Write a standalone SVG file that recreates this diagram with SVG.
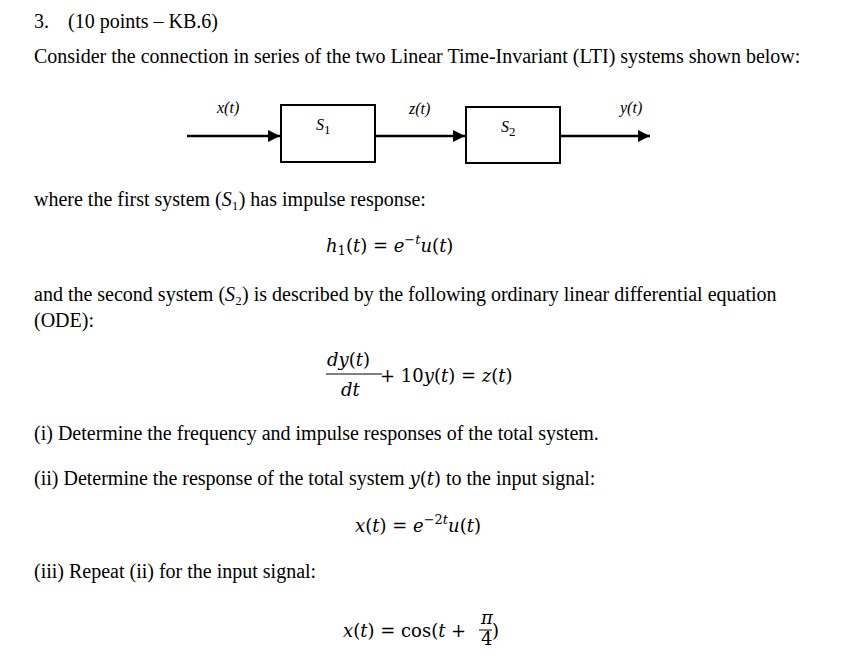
<svg xmlns="http://www.w3.org/2000/svg" width="859" height="671" viewBox="0 0 859 671">
<defs>
<style>
.t{font-family:"Liberation Serif",serif;font-size:20px;fill:#000}
.m{font-family:"DejaVu Serif",serif;font-size:18px;fill:#000}
.mi{font-style:italic}
.l{font-family:"Liberation Serif",serif;font-style:italic;font-size:16px}
.box{fill:#fff;stroke:#000;stroke-width:2}
.c{stroke:#000;stroke-width:2.5;fill:none}
</style>
<marker id="ah" viewBox="0 0 10 10" refX="10" refY="5" markerWidth="5" markerHeight="5" orient="auto"><path d="M0,0L10,5L0,10z"/></marker>
</defs>
<rect width="859" height="671" fill="#fff"/>
<text class="t" x="34" y="28">3.</text>
<text class="t" x="68" y="28">(10 points – KB.6)</text>
<text class="t" x="34" y="63">Consider the connection in series of the two Linear Time-Invariant (LTI) systems shown below:</text>
<g id="connectors">
<line class="c" x1="187" y1="136" x2="280" y2="136" marker-end="url(#ah)"/>
<line class="c" x1="375" y1="136" x2="465" y2="136" marker-end="url(#ah)"/>
<line class="c" x1="560" y1="136" x2="650" y2="136" marker-end="url(#ah)"/>
</g>
<g id="S1"><rect class="box" x="281" y="105" width="94" height="57"/><text class="l" x="316" y="130" font-size="19">S<tspan font-style="normal" font-size="13" dy="4">1</tspan></text></g>
<g id="S2"><rect class="box" x="466" y="107" width="94" height="56"/><text class="l" x="501" y="132" font-size="19">S<tspan font-style="normal" font-size="13" dy="4">2</tspan></text></g>
<text class="l" x="217" y="113">x(t)</text>
<text class="l" x="409" y="114">z(t)</text>
<text class="l" x="620" y="113">y(t)</text>
<text class="t" x="34" y="206">where the first system (<tspan class="mi">S</tspan>₁) has impulse response:</text>
<text class="m" x="326" y="252"><tspan class="mi">h</tspan><tspan font-size="13" dy="3">1</tspan><tspan dy="-3">(</tspan><tspan class="mi">t</tspan>) = <tspan class="mi">e</tspan><tspan font-size="13" dy="-8">−<tspan class="mi">t</tspan></tspan><tspan dy="8" class="mi">u</tspan>(<tspan class="mi">t</tspan>)</text>
<text class="t" x="34" y="301">and the second system (<tspan class="mi">S</tspan>₂) is described by the following ordinary linear differential equation</text>
<text class="t" x="34" y="327">(ODE):</text>
<text class="m" x="327" y="366"><tspan class="mi">dy</tspan>(<tspan class="mi">t</tspan>)</text>
<line x1="326" y1="374" x2="382" y2="374" stroke="#000" stroke-width="1"/>
<text class="m" x="341" y="396"><tspan class="mi">dt</tspan></text>
<text class="m" x="380" y="382">+ 10<tspan class="mi">y</tspan>(<tspan class="mi">t</tspan>) = <tspan class="mi">z</tspan>(<tspan class="mi">t</tspan>)</text>
<text class="t" x="34" y="440">(i) Determine the frequency and impulse responses of the total system.</text>
<text class="t" x="34" y="485">(ii) Determine the response of the total system <tspan font-family="DejaVu Serif" font-size="18" font-style="italic">y</tspan><tspan font-family="DejaVu Serif" font-size="18">(</tspan><tspan font-family="DejaVu Serif" font-size="18" font-style="italic">t</tspan><tspan font-family="DejaVu Serif" font-size="18">)</tspan> to the input signal:</text>
<text class="m" x="355" y="532"><tspan class="mi">x</tspan>(<tspan class="mi">t</tspan>) = <tspan class="mi">e</tspan><tspan font-size="13" dy="-8">−2<tspan class="mi">t</tspan></tspan><tspan dy="8" class="mi">u</tspan>(<tspan class="mi">t</tspan>)</text>
<text class="t" x="34" y="578">(iii) Repeat (ii) for the input signal:</text>
<text class="m" x="343" y="637"><tspan class="mi">x</tspan>(<tspan class="mi">t</tspan>) = cos(<tspan class="mi">t</tspan> +</text>
<text class="m mi" x="481" y="624" font-size="14">π</text>
<line x1="479" y1="630" x2="492" y2="630" stroke="#000" stroke-width="1"/>
<text class="m" x="481" y="645" font-size="14">4</text>
<text class="m" x="492" y="637">)</text>
</svg>
